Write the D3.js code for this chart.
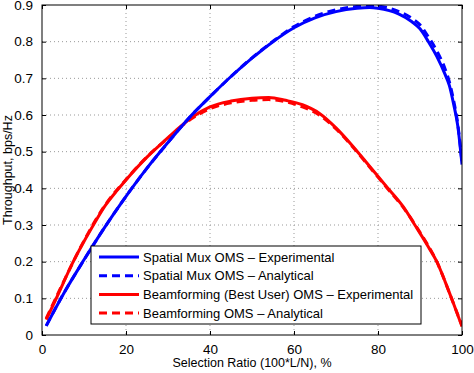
<!DOCTYPE html>
<html>
<head>
<meta charset="utf-8">
<style>
  body { margin: 0; background: #fff; }
  svg text { font-family: "Liberation Sans", Arial, sans-serif; }
  .grid line { stroke: #999; stroke-dasharray: 1,3; }
</style>
</head>
<body>
<svg id="chart" width="474" height="373"></svg>
<script src="https://d3js.org/d3.v7.min.js"></script>
<script>
// Spatial Mux OMS - Experimental
var muxExpX = [1, 5, 10, 15, 20, 25, 30, 35, 40, 45, 50, 55, 60, 65, 70, 75, 78, 80, 85, 88, 90, 92, 94, 96, 97, 98, 99, 100];
var muxExpY = [0.025, 0.11, 0.205, 0.295, 0.378, 0.455, 0.525, 0.592, 0.65, 0.705, 0.755, 0.8, 0.838, 0.865, 0.882, 0.891, 0.893, 0.891, 0.875, 0.855, 0.835, 0.8, 0.76, 0.71, 0.68, 0.63, 0.57, 0.465];
// Spatial Mux OMS - Analytical
var muxAnaX = [1, 5, 10, 15, 20, 25, 30, 35, 40, 45, 50, 55, 60, 65, 70, 75, 78, 80, 85, 88, 90, 92, 94, 96, 97, 98, 99, 100];
var muxAnaY = [0.025, 0.11, 0.205, 0.295, 0.378, 0.455, 0.525, 0.592, 0.65, 0.705, 0.756, 0.801, 0.841, 0.869, 0.887, 0.896, 0.898, 0.897, 0.882, 0.864, 0.846, 0.813, 0.775, 0.725, 0.69, 0.64, 0.575, 0.47];
// Beamforming (Best User) OMS - Experimental
var bfExpX = [1, 3, 5, 7, 10, 12, 15, 18, 20, 25, 30, 33, 36, 40, 45, 50, 54, 58, 62, 66, 70, 74, 78, 82, 86, 89, 92, 94, 96, 98, 100];
var bfExpY = [0.042, 0.09, 0.14, 0.19, 0.255, 0.295, 0.352, 0.396, 0.423, 0.485, 0.538, 0.569, 0.596, 0.622, 0.638, 0.646, 0.648, 0.64, 0.628, 0.605, 0.565, 0.515, 0.46, 0.405, 0.35, 0.296, 0.24, 0.2, 0.145, 0.085, 0.023];
// Beamforming OMS - Analytical
var bfAnaX = [1, 5, 10, 15, 20, 25, 30, 35, 40, 45, 50, 54, 58, 62, 66, 70, 74, 78, 82, 86, 90, 94, 98, 100];
var bfAnaY = [0.045, 0.142, 0.257, 0.354, 0.424, 0.486, 0.537, 0.585, 0.617, 0.633, 0.64, 0.642, 0.636, 0.622, 0.6, 0.562, 0.513, 0.458, 0.403, 0.348, 0.28, 0.2, 0.085, 0.025];

var xTicks = [0, 20, 40, 60, 80, 100];
var yTicks = [0, 0.1, 0.2, 0.3, 0.4, 0.5, 0.6, 0.7, 0.8, 0.9];
var legendLabels = [
  "Spatial Mux OMS \u2013 Experimental",
  "Spatial Mux OMS \u2013 Analytical",
  "Beamforming (Best User) OMS \u2013 Experimental",
  "Beamforming OMS \u2013 Analytical"
];

var svg = d3.select("#chart"),
    margin = {top: 5, right: 12, bottom: 38, left: 42},
    width = 474 - margin.left - margin.right,
    height = 373 - margin.top - margin.bottom;

var x = d3.scaleLinear().domain([0, 100]).range([0, width]),
    y = d3.scaleLinear().domain([0, 0.9]).range([height, 0]);

var g = svg.append("g")
    .attr("transform", "translate(" + margin.left + "," + margin.top + ")");

// dotted grid
g.append("g").attr("class", "grid")
  .selectAll("line").data(xTicks.slice(1, -1)).enter().append("line")
    .attr("x1", d => x(d)).attr("x2", d => x(d))
    .attr("y1", 0).attr("y2", height);
g.append("g").attr("class", "grid")
  .selectAll("line").data(yTicks.slice(1, -1)).enter().append("line")
    .attr("y1", d => y(d)).attr("y2", d => y(d))
    .attr("x1", 0).attr("x2", width);

// axes with inward ticks on all four sides
function styleAxis(sel) {
  sel.select(".domain").remove();
  sel.selectAll("line").attr("stroke", "#000");
  sel.selectAll("text").attr("font-size", "13.5px").attr("fill", "#000");
}
g.append("g")
    .attr("transform", "translate(0," + height + ")")
    .call(d3.axisBottom(x).tickValues(xTicks).tickSizeInner(-4).tickSizeOuter(0).tickPadding(9))
    .call(styleAxis);
g.append("g")
    .call(d3.axisTop(x).tickValues(xTicks).tickSizeInner(-4).tickSizeOuter(0).tickFormat(""))
    .call(styleAxis);
g.append("g")
    .call(d3.axisLeft(y).tickValues(yTicks).tickSizeInner(-4).tickSizeOuter(0).tickPadding(9).tickFormat(d => d === 0 ? "0" : d3.format(".1f")(d)))
    .call(styleAxis);
g.append("g")
    .attr("transform", "translate(" + width + ",0)")
    .call(d3.axisRight(y).tickValues(yTicks).tickSizeInner(-4).tickSizeOuter(0).tickFormat(""))
    .call(styleAxis);

var series = [
  {xs: muxExpX, ys: muxExpY, color: "#0000ff", dash: null},
  {xs: muxAnaX, ys: muxAnaY, color: "#0000ff", dash: "8,5"},
  {xs: bfExpX, ys: bfExpY, color: "#ff0000", dash: null},
  {xs: bfAnaX, ys: bfAnaY, color: "#ff0000", dash: "8,5"}
];

var line = d3.line()
    .x(d => x(d[0]))
    .y(d => y(d[1]))
    .curve(d3.curveMonotoneX);

svg.append("defs").append("clipPath").attr("id", "clip")
  .append("rect").attr("x", 0).attr("y", 0).attr("width", width).attr("height", height);

var plot = g.append("g").attr("clip-path", "url(#clip)");
[2, 3, 0, 1].forEach(function(i) {
  var s = series[i];
  plot.append("path")
      .datum(s.xs.map((v, j) => [v, s.ys[j]]))
      .attr("fill", "none")
      .attr("stroke", s.color)
      .attr("stroke-width", 3)
      .attr("stroke-dasharray", s.dash)
      .attr("d", line);
});

// frame
g.append("rect")
    .attr("width", width).attr("height", height)
    .attr("fill", "none").attr("stroke", "#000").attr("stroke-width", 1);

// legend
var lg = svg.append("g").attr("transform", "translate(91,246)");
lg.append("rect")
    .attr("width", 330).attr("height", 78)
    .attr("fill", "#fff").attr("stroke", "#000").attr("stroke-width", 1);
legendLabels.forEach(function(lbl, i) {
  var yy = 11 + i * 18.7;
  lg.append("line")
      .attr("x1", 8).attr("x2", 48).attr("y1", yy).attr("y2", yy)
      .attr("stroke", series[i].color).attr("stroke-width", 3)
      .attr("stroke-dasharray", series[i].dash);
  lg.append("text")
      .attr("x", 52).attr("y", yy).attr("dy", "0.35em")
      .attr("font-size", "13px")
      .text(lbl);
});

// axis titles
svg.append("text")
    .attr("x", margin.left + width / 2).attr("y", 367)
    .attr("text-anchor", "middle").attr("font-size", "12.5px")
    .text("Selection Ratio (100*L/N), %");
svg.append("text")
    .attr("transform", "translate(12," + (margin.top + height / 2) + ") rotate(-90)")
    .attr("text-anchor", "middle").attr("font-size", "12.5px")
    .text("Throughput, bps/Hz");
</script>
</body>
</html>
